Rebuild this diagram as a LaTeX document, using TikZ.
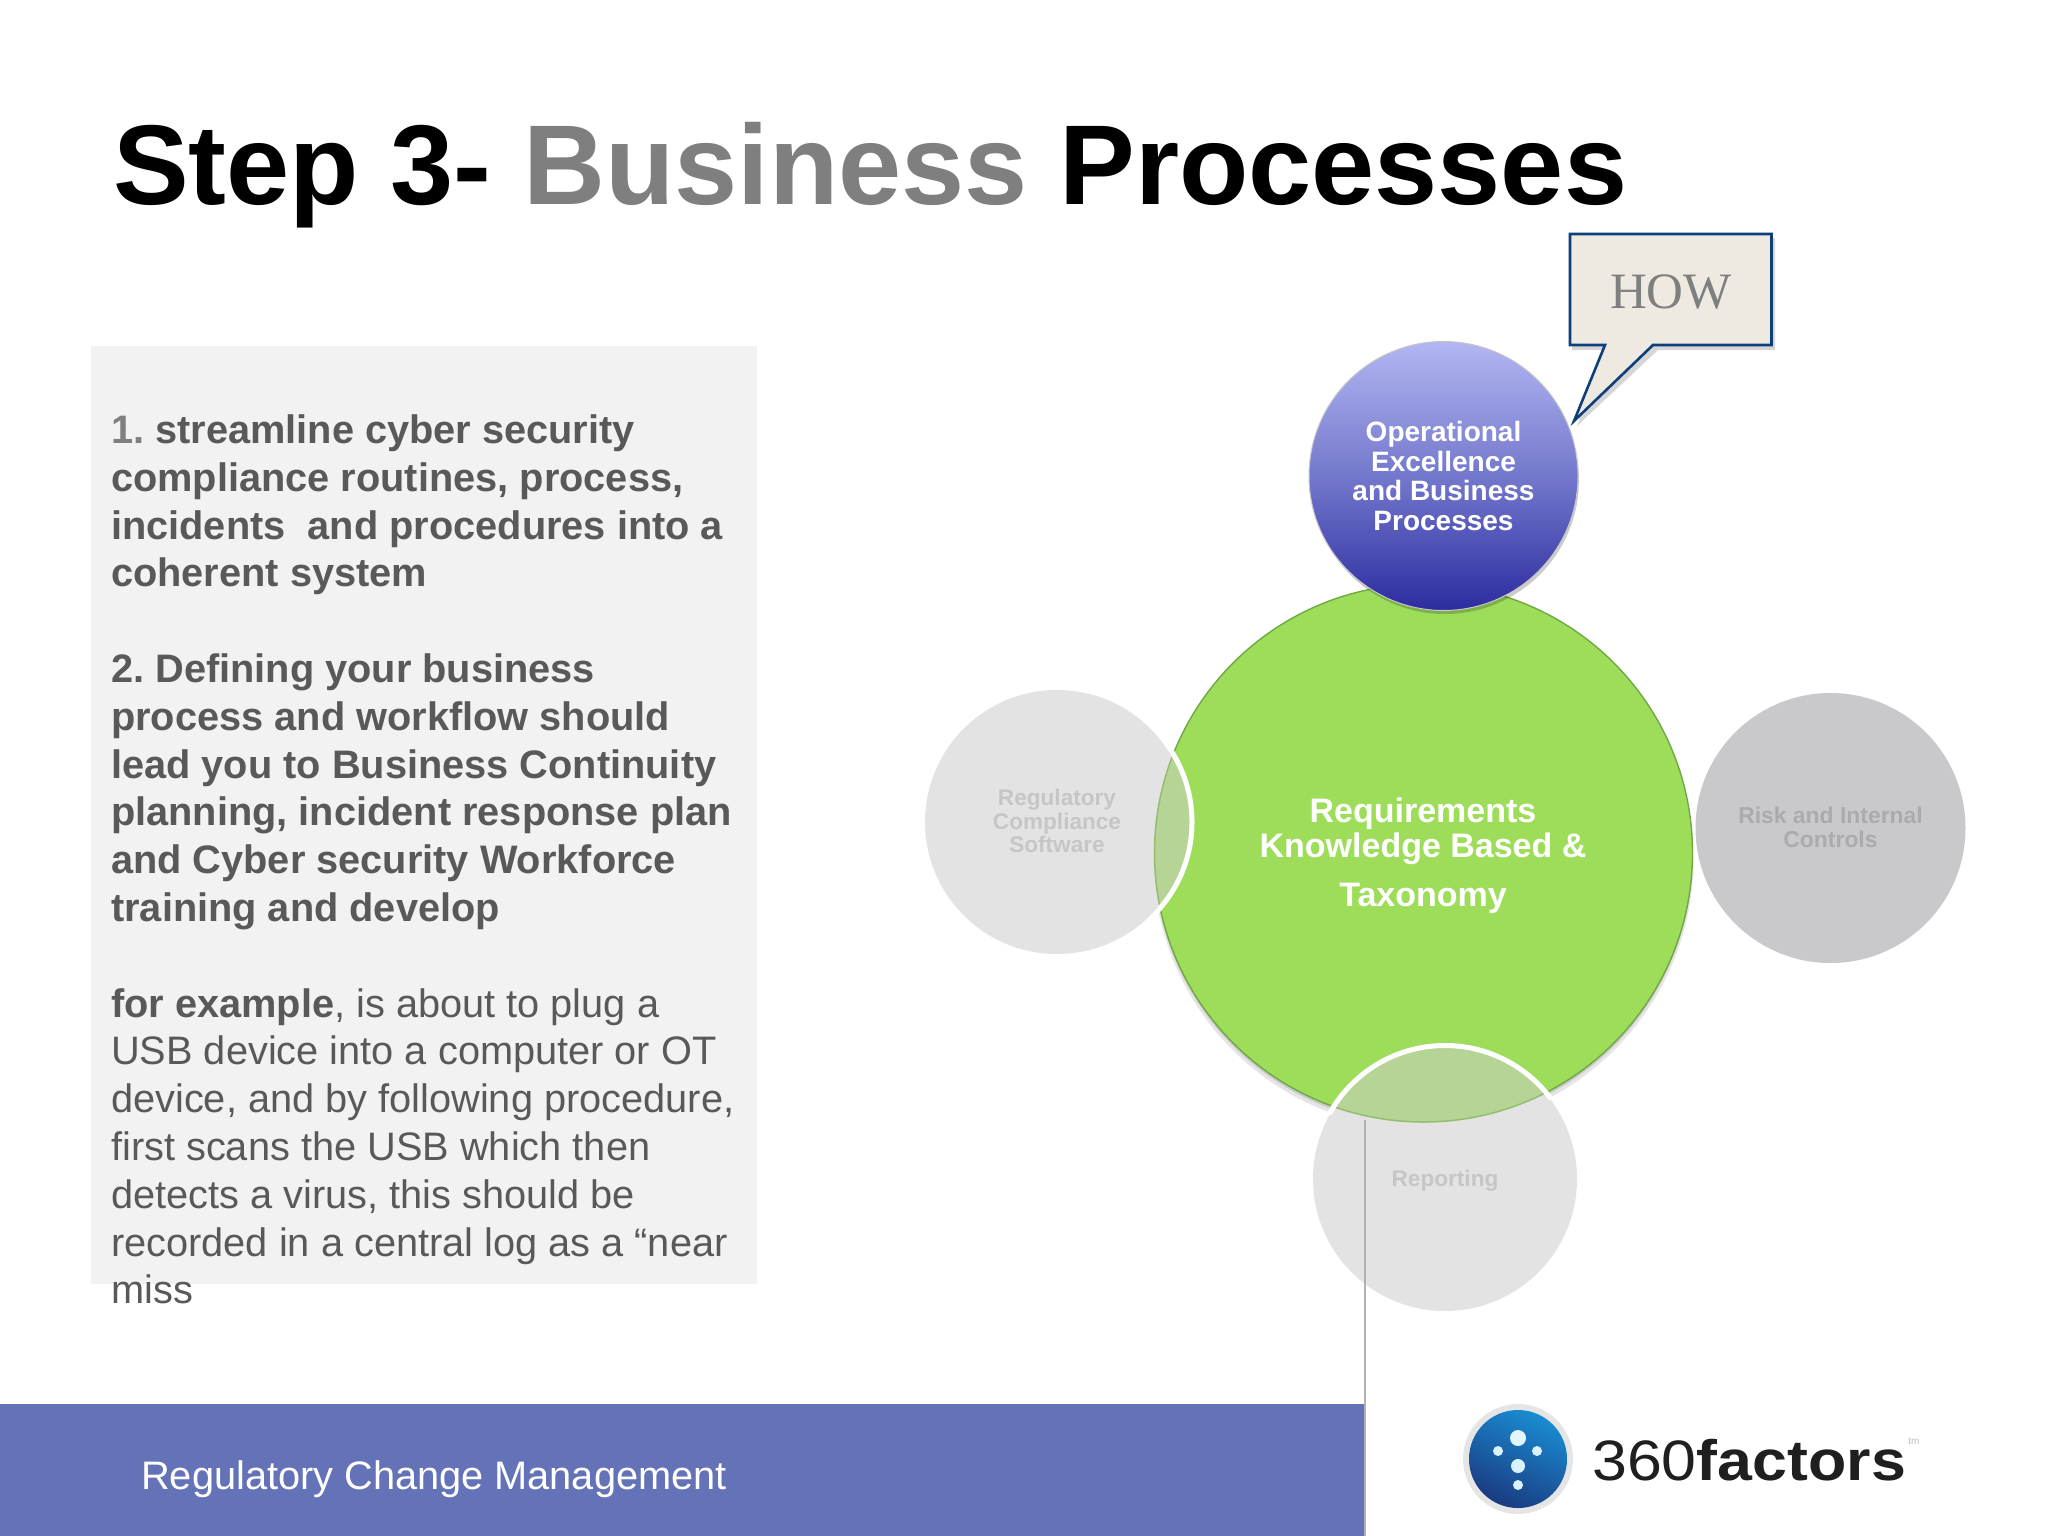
\documentclass[tikz,border=0pt]{standalone}
\usepackage{graphicx}
\usepackage{fontspec}
\setmainfont{Liberation Sans}
\newfontfamily\serifhow{Liberation Serif}
\definecolor{bodygrey}{HTML}{595959}
\definecolor{midgrey}{HTML}{7F7F7F}
\definecolor{panelgrey}{HTML}{F2F2F2}
\definecolor{footerblue}{HTML}{6472B8}
\definecolor{leafgreen}{HTML}{9DDD5A}
\definecolor{leafedge}{HTML}{6FA844}
\definecolor{ghostfill}{HTML}{E3E3E4}
\definecolor{ghosttext}{HTML}{C6C6C8}
\definecolor{riskfill}{HTML}{C9C9CB}
\definecolor{risktext}{HTML}{ABABAD}
\definecolor{tintgreen}{HTML}{B6D496}
\definecolor{calloutfill}{HTML}{EEEAE2}
\definecolor{calloutline}{HTML}{0F3F78}
\definecolor{ballTop}{HTML}{B2B6F2}
\definecolor{ballMid}{HTML}{7478CC}
\definecolor{ballBot}{HTML}{2C2CA0}
\definecolor{logoA}{HTML}{1A8CD2}
\definecolor{logoB}{HTML}{1A3A80}
\newcommand{\fs}[2]{\fontsize{#1}{#2}\selectfont}
\tikzset{
  disc/.style={circle,inner sep=0pt,minimum size=#1},
}
\begin{document}
\begin{tikzpicture}[x=1pt,y=-1pt]
\useasboundingbox (0,0) rectangle (2048,1536);
\fill[white] (0,0) rectangle (2048,1536);
% title
\node[anchor=base west,inner sep=0pt,font=\bfseries\fs{113.5}{120}] (title) at (113,204)
  {Step 3- \textcolor{midgrey}{Business} Processes};
% left panel
\fill[panelgrey] (91,346) rectangle (757,1284);
\node[anchor=north west,inner sep=0pt,align=left,text=bodygrey,font=\frenchspacing\fs{39.75}{47.8}] (body) at (111,414.5)
  {\textbf{\textcolor{midgrey}{1.} streamline cyber security}\\
   \textbf{compliance routines, process,}\\
   \textbf{incidents\ \ and procedures into a}\\
   \textbf{coherent system}\\[47.8pt]
   \textbf{2. Defining your business}\\
   \textbf{process and workflow should}\\
   \textbf{lead you to Business Continuity}\\
   \textbf{planning, incident response plan}\\
   \textbf{and Cyber security Workforce}\\
   \textbf{training and develop}\\[47.8pt]
   \textbf{for example}, is about to plug a\\
   USB device into a computer or OT\\
   device, and by following procedure,\\
   first scans the USB which then\\
   detects a virus, this should be\\
   recorded in a central log as a “near\\
   miss};
% footer
\fill[footerblue] (0,1404) rectangle (1365,1536);
\node[anchor=base west,inner sep=0pt,text=white,font=\fs{39.75}{48}] (foot) at (141,1489) {Regulatory Change Management};
% right grey disc
\node[disc=270pt,fill=riskfill] (risk) at (1830.5,828) {};
\node[align=center,text=risktext,font=\bfseries\fs{22.9}{24}] (risktxt) at (1830.5,827) {Risk and Internal\\Controls};
% green disc
\fill[black,opacity=.10] (1423.5,859) circle (270);
\fill[black,opacity=.12] (1423.5,856) circle (269);
\node[disc=538pt,fill=leafgreen,draw=leafedge,line width=1.4pt] (green) at (1423.5,853) {};
% left ghost disc
\node[disc=264pt,fill=ghostfill] (reg) at (1057,822) {};
\begin{scope}
  \clip (1060,822) circle (132);
  \fill[tintgreen,draw=leafedge!50!tintgreen,line width=1.5pt] (1423.5,853) circle (269);
\end{scope}
\begin{scope}
  \clip (1423.5,853) circle (271);
  \draw[white,line width=5pt] (1060,822) circle (132);
\end{scope}
\node[align=center,text=ghosttext,font=\bfseries\fs{22.6}{23.5}] (regtxt) at (1057,821) {Regulatory\\Compliance\\Software};
% bottom ghost disc
\node[disc=264pt,fill=ghostfill] (rep) at (1445,1179) {};
\begin{scope}
  \clip (1445,1177.5) circle (132);
  \fill[tintgreen,draw=leafedge!50!tintgreen,line width=1.5pt] (1423.5,853) circle (269);
\end{scope}
\begin{scope}
  \clip (1423.5,858) circle (273);
  \draw[white,line width=5pt] (1445,1177.5) circle (132);
\end{scope}
\node[text=ghosttext,font=\bfseries\fs{22.6}{24}] (reptxt) at (1445,1180.5) {Reporting};
\coordinate (ruletop) at (1365,1120);
\coordinate (rulebot) at (1365,1536);
\draw[black!30,line width=1.4pt] (ruletop) -- (rulebot);
% green label
\node[align=center,text=white,font=\bfseries\fs{34}{35}] (greentxt) at (1423,856)
  {Requirements\\Knowledge Based \&\\[14pt]Taxonomy};
% blue ball
\fill[black,opacity=.20] (1445,480) circle (134);
\shade[top color=ballTop,bottom color=ballBot,middle color=ballMid,draw=black!22,line width=1pt] (1443.5,476) circle (134.5);
\node[disc=269pt] (ball) at (1443.5,476) {};
\node[align=center,text=white,font=\bfseries\fs{28}{29.5}] (balltxt) at (1443.5,476)
  {Operational\\Excellence\\and Business\\Processes};
% callout
\fill[black,opacity=.16] (1572,238) -- (1775,238) -- (1775,350) -- (1658,350) -- (1577,426) -- (1607,350) -- (1572,350) -- cycle;
\draw[fill=calloutfill,draw=calloutline,line width=2.6pt,line join=miter] (1570,234) -- (1771.5,234) -- (1771.5,345) -- (1653,345) -- (1574,421) -- (1605,345) -- (1570,345) -- cycle;
\node[text=midgrey,font=\serifhow\fs{51}{52}] (how) at (1671,292) {HOW};
% logo
\node[disc=110pt,fill=black!10] (logoring) at (1518,1459) {};
\shade[top color=logoA,bottom color=logoB,shading angle=-25] (1518,1459) circle (49);
\fill[white!88!cyan] (1518,1438) circle (8);
\fill[white!85!cyan] (1498,1451) circle (5);
\fill[white!85!cyan] (1537,1451) circle (5);
\fill[white!85!cyan] (1518,1466) circle (7);
\fill[white!85!cyan] (1518,1485) circle (5);
\node[anchor=base west,inner sep=0pt,text=black!88,font=\fs{57}{62}] (logotxt) at (1592,1480) {\scalebox{1.1}[1]{360\textbf{factors}}};
\node[text=black!25,font=\fs{10}{11},inner sep=0pt] (tm) at (1914,1441) {tm};
\end{tikzpicture}
\end{document}
